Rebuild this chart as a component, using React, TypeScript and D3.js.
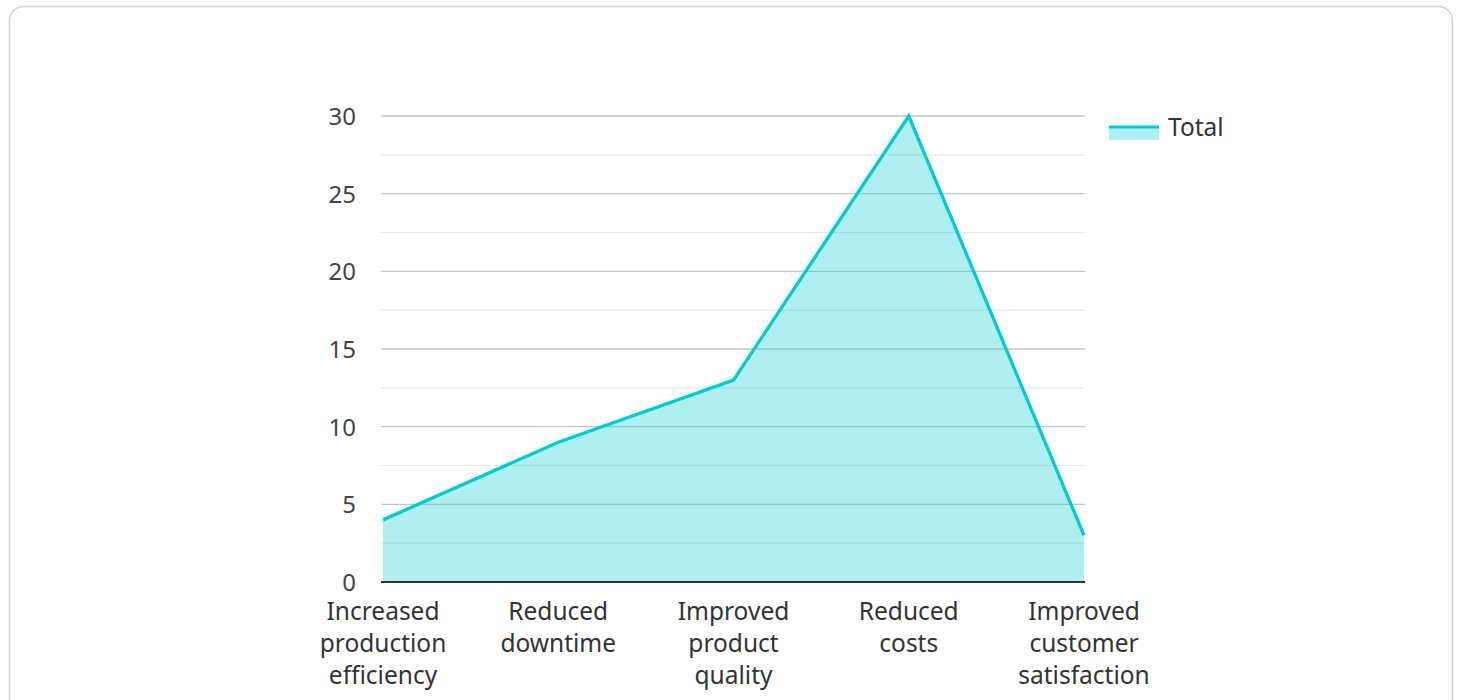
import { useEffect, useRef } from "react";
import * as d3 from "d3";

// chart data
const categories = [
  "Increased production efficiency",
  "Reduced downtime",
  "Improved product quality",
  "Reduced costs",
  "Improved customer satisfaction",
];
const categoryLines = [
  ["Increased", "production", "efficiency"],
  ["Reduced", "downtime"],
  ["Improved", "product", "quality"],
  ["Reduced", "costs"],
  ["Improved", "customer", "satisfaction"],
];
const totals = [4, 9, 13, 30, 3];
const yTicks = [0, 5, 10, 15, 20, 25, 30];
const minorTicks = [2.5, 7.5, 12.5, 17.5, 22.5, 27.5];
const seriesName = "Total";

const FONT = "'Noto Sans', 'Open Sans', sans-serif";
const LINE = "#00cdd0";

const App = () => {
  const svgRef = useRef<SVGSVGElement | null>(null);

  useEffect(() => {
    const svg = d3.select(svgRef.current);
    svg.selectAll("*").remove();

    const x = d3.scalePoint<string>().domain(categories).range([383, 1084]);
    const y = d3.scaleLinear().domain([0, 30]).range([582, 116]);

    // card
    svg
      .append("rect")
      .attr("x", 9.5)
      .attr("y", 6.5)
      .attr("width", 1443)
      .attr("height", 740)
      .attr("rx", 14)
      .attr("fill", "#fff")
      .attr("stroke", "#d2d2d2")
      .attr("stroke-width", 1.5);

    // grid
    const grid = svg.append("g");
    grid
      .selectAll("line.minor")
      .data(minorTicks)
      .enter()
      .append("line")
      .attr("x1", 381)
      .attr("x2", 1085)
      .attr("y1", (d) => y(d))
      .attr("y2", (d) => y(d))
      .attr("stroke", "#e8e8e8")
      .attr("stroke-width", 1.2);
    grid
      .selectAll("line.major")
      .data(yTicks.filter((d) => d > 0))
      .enter()
      .append("line")
      .attr("x1", 381)
      .attr("x2", 1085)
      .attr("y1", (d) => y(d))
      .attr("y2", (d) => y(d))
      .attr("stroke", "#c6c6c6")
      .attr("stroke-width", 1.4);

    // area + line
    const area = d3
      .area<number>()
      .x((_, i) => x(categories[i]) as number)
      .y0(y(0))
      .y1((d) => y(d));
    const line = d3
      .line<number>()
      .x((_, i) => x(categories[i]) as number)
      .y((d) => y(d));

    svg
      .append("path")
      .datum(totals)
      .attr("d", area)
      .attr("fill", "rgba(0, 204, 206, 0.31)");
    svg
      .append("path")
      .datum(totals)
      .attr("d", line)
      .attr("fill", "none")
      .attr("stroke", LINE)
      .attr("stroke-width", 3.3)
      .attr("stroke-linejoin", "miter");

    // baseline
    svg
      .append("line")
      .attr("x1", 381)
      .attr("x2", 1085)
      .attr("y1", y(0))
      .attr("y2", y(0))
      .attr("stroke", "#333")
      .attr("stroke-width", 2);

    // y tick labels
    svg
      .append("g")
      .selectAll("text")
      .data(yTicks)
      .enter()
      .append("text")
      .attr("x", 356)
      .attr("y", (d) => y(d) + 9)
      .attr("text-anchor", "end")
      .attr("font-family", FONT)
      .attr("font-size", 24)
      .attr("fill", "#444")
      .text((d) => d);

    // x labels
    const xl = svg
      .append("g")
      .selectAll("text")
      .data(categories)
      .enter()
      .append("text")
      .attr("text-anchor", "middle")
      .attr("font-family", FONT)
      .attr("font-size", 24.5)
      .attr("fill", "#333");
    xl.selectAll("tspan")
      .data((_, i) => categoryLines[i].map((t) => ({ t, c: categories[i] })))
      .enter()
      .append("tspan")
      .attr("x", (d) => x(d.c) as number)
      .attr("y", (_, j) => 620 + j * 32)
      .text((d) => d.t);

    // legend
    const lg = svg.append("g");
    lg.append("rect")
      .attr("x", 1109)
      .attr("y", 128)
      .attr("width", 50)
      .attr("height", 12)
      .attr("fill", "rgba(0, 204, 206, 0.31)");
    lg.append("line")
      .attr("x1", 1109)
      .attr("x2", 1159)
      .attr("y1", 127)
      .attr("y2", 127)
      .attr("stroke", LINE)
      .attr("stroke-width", 3);
    lg.append("text")
      .attr("x", 1168)
      .attr("y", 136)
      .attr("font-family", FONT)
      .attr("font-size", 24.5)
      .attr("fill", "#333")
      .text(seriesName);
  }, []);

  return (
    <div style={{ position: "absolute", left: 0, top: 0 }}>
      <svg ref={svgRef} width={1460} height={700} style={{ display: "block" }}></svg>
    </div>
  );
};

export default App;
